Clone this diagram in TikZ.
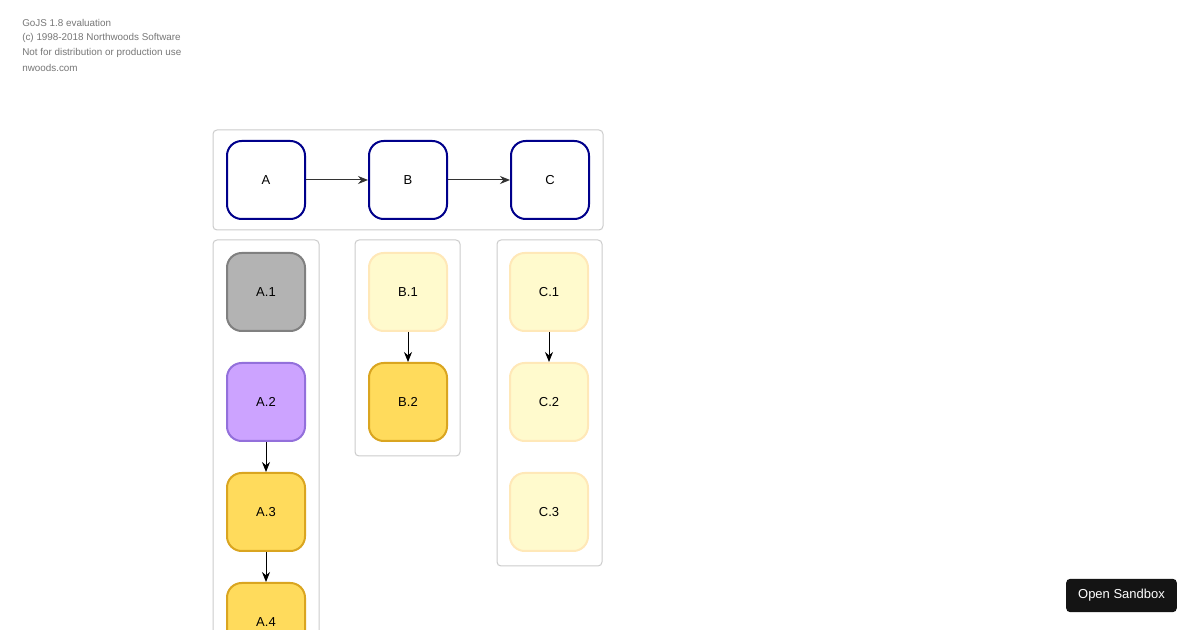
\documentclass[tikz,border=0pt]{standalone}
\usepackage{fontspec}
\setmainfont{Liberation Sans}
\usetikzlibrary{positioning,arrows.meta}

\definecolor{navyline}{HTML}{00008B}
\definecolor{grayfill}{HTML}{B3B3B3}
\definecolor{grayline}{HTML}{808080}
\definecolor{purplefill}{HTML}{CCA3FF}
\definecolor{purpleline}{HTML}{9370DB}
\definecolor{goldfill}{HTML}{FFDB5C}
\definecolor{goldline}{HTML}{DAA520}
\definecolor{paleyfill}{HTML}{FFFACD}
\definecolor{paleyline}{HTML}{FFE8B8}
\definecolor{groupline}{HTML}{CCCCCC}
\definecolor{notegray}{HTML}{777777}
\definecolor{btnfill}{HTML}{141414}

\tikzset{
  task/.style={rectangle, rounded corners=11pt, minimum size=58.5pt, line width=1.5pt, font=\fontsize{9.75}{11}\selectfont},
  top/.style={task, draw=navyline, fill=white},
  grayed/.style={task, draw=grayline, fill=grayfill},
  purple/.style={task, draw=purpleline, fill=purplefill},
  gold/.style={task, draw=goldline, fill=goldfill},
  pale/.style={task, draw=paleyline, fill=paleyfill},
  group/.style={draw=groupline, line width=0.75pt, rounded corners=3pt},
  link/.style={-{Stealth[length=7.5pt,width=6pt]}, line width=0.75pt},
  note/.style={anchor=west, inner sep=0pt, text=notegray, font=\fontsize{7.4}{9}\selectfont}
}

\begin{document}
\begin{tikzpicture}[x=0.75pt, y=-0.75pt, on grid, node distance=82.5pt and 106.5pt]
  \clip (0,0) rectangle (1200,630);
  \fill[white] (0,0) rectangle (1200,630);

  % watermark
  \node[note] (n1) at (22,23) {GoJS 1.8 evaluation};
  \node[note] (n2) at (22,38) {(c) 1998-2018 Northwoods Software};
  \node[note] (n3) at (22,53) {Not for distribution or production use};
  \node[note] (n4) at (22,68) {nwoods.com};

  % groups
  \draw[group] (213,130) rectangle (603,230);
  \draw[group] (213,240) rectangle (319,680);
  \draw[group] (355,240) rectangle (460,456);
  \draw[group] (497,240) rectangle (602,566);

  % top row
  \node[top] (A) at (266,180) {A};
  \node[top, right=of A] (B) {B};
  \node[top, right=of B] (C) {C};

  % columns
  \node[grayed] (A1) at (266,292) {A.1};
  \node[purple, below=of A1] (A2) {A.2};
  \node[gold, below=of A2] (A3) {A.3};
  \node[gold, below=of A3] (A4) {A.4};

  \node[pale] (B1) at (408,292) {B.1};
  \node[gold, below=of B1] (B2) {B.2};

  \node[pale] (C1) at (549,292) {C.1};
  \node[pale, below=of C1] (C2) {C.2};
  \node[pale, below=of C2] (C3) {C.3};

  \path[link]
    (A) edge[draw=black!80] (B)
    (B) edge[draw=black!80] (C)
    (A2) edge (A3)
    (A3) edge (A4)
    (B1) edge (B2)
    (C1) edge (C2);

  % button
  \node[fill=btnfill, rounded corners=3pt, minimum width=83pt, minimum height=25pt,
        text=white, font=\fontsize{9.75}{11}\selectfont] (sandbox) at (1121.5,595.5) {Open Sandbox};
\end{tikzpicture}
\end{document}
